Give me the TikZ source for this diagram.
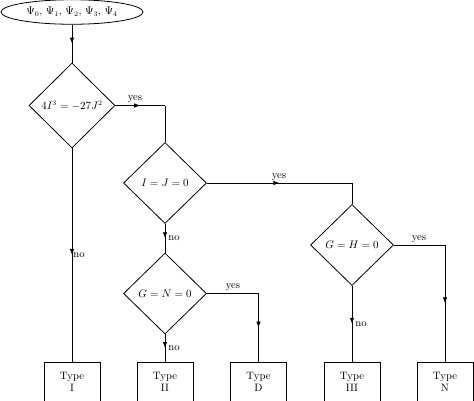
\documentclass[tikz,border=0pt]{standalone}
\usetikzlibrary{shapes.geometric,arrows.meta,decorations.markings}
\begin{document}
\begin{tikzpicture}[x=1pt,y=-1pt,line width=0.8pt,
  every node/.style={font=\fontsize{10.7}{12.5}\selectfont},
  dec/.style={draw,shape=diamond,inner sep=0pt,minimum width=83pt,minimum height=81pt},
  typebox/.style={draw,rectangle,minimum width=56pt,minimum height=40pt,inner sep=0pt,align=center},
  lbl/.style={font=\fontsize{10.7}{12.5}\selectfont,inner sep=1pt},
  midarrow/.style={postaction={decorate},decoration={markings,mark=at position 0.5 with {\arrow{Latex[length=6pt,width=4.5pt]}}}}]
\useasboundingbox (0,0) rectangle (474,400);
\node[draw,ellipse,minimum width=142pt,minimum height=24.5pt,inner sep=0pt] (start) at (72,12) {$\Psi_0$, $\Psi_1$, $\Psi_2$, $\Psi_3$, $\Psi_4$};
\node[dec,minimum width=86pt,minimum height=85pt] (d1) at (72,105.5) {$4I^3=-27J^2$};
\node[dec] (d2) at (165,183) {$I=J=0$};
\node[dec] (d3) at (352,245) {$G=H=0$};
\node[dec] (d4) at (165,293.5) {$G=N=0$};
\node[typebox] (t1) at (72,382) {Type\\I};
\node[typebox] (t2) at (165,382) {Type\\II};
\node[typebox] (tD) at (258.5,382) {Type\\D};
\node[typebox] (t3) at (352,382) {Type\\III};
\node[typebox] (tN) at (445,382) {Type\\N};
\coordinate (c1) at (165,105.5);
\coordinate (c2) at (352,183);
\coordinate (c3) at (445,245);
\coordinate (c4) at (258.5,293.5);
\draw[midarrow] (start) -- (d1);
\draw[midarrow] (d1.east) -- (c1);
\draw (c1) -- (d2.north);
\draw[midarrow] (d1.south) -- node[lbl,right,pos=0.5]{no} (t1.north);
\draw[midarrow] (d2.east) -- (c2);
\draw (c2) -- (d3.north);
\draw[midarrow] (d2.south) -- (d4.north);
\draw (c3) -- (d3.east);
\draw[midarrow] (c3) -- (tN.north);
\draw[midarrow] (d3.south) -- (t3.north);
\draw (d4.east) -- (c4);
\draw[midarrow] (c4) -- (tD.north);
\draw[midarrow] (d4.south) -- (t2.north);
\node[lbl,anchor=south] (y1) at (135,104) {yes};
\node[lbl,anchor=south] (y2) at (279,182) {yes};
\node[lbl,anchor=south] (y3) at (419,244) {yes};
\node[lbl,anchor=south] (y4) at (233,292) {yes};
\node[lbl,anchor=west] (n2) at (167,238) {no};
\node[lbl,anchor=west] (n3) at (354,324) {no};
\node[lbl,anchor=west] (n4) at (167,348) {no};
\end{tikzpicture}
\end{document}
